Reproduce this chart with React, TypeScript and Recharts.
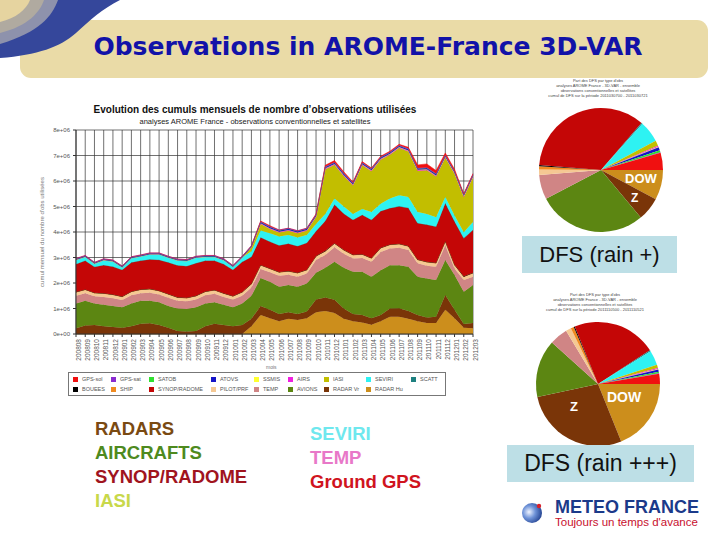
import React from 'react';
import { AreaChart, Area, XAxis, YAxis, CartesianGrid, PieChart, Pie, Cell } from 'recharts';

// months on the x axis (yyyymm)
const months = [
  '200808', '200809', '200810', '200811', '200812', '200901', '200902', '200903', '200904', '200905', '200906',
  '200907', '200908', '200909', '200910', '200911', '200912', '201001', '201002', '201003', '201004', '201005',
  '201006', '201007', '201008', '201009', '201010', '201011', '201012', '201101', '201102', '201103', '201104',
  '201105', '201106', '201107', '201108', '201109', '201110', '201111', '201112', '201201', '201202', '201203',
];

// monthly counts, in millions of observations, stacked from the bottom
const radarHu = [0, 0, 0, 0, 0, 0, 0, 0, 0, 0, 0, 0, 0, 0, 0, 0, 0, 0, 0, 0.3, 0.75, 0.62, 0.5, 0.6, 0.55, 0.62, 0.85, 0.9, 0.82, 0.6, 0.5, 0.45, 0.36, 0.5, 0.68, 0.68, 0.6, 0.5, 0.43, 0.43, 0.95, 0.62, 0.25, 0.23];
const radarVr = [0.23, 0.33, 0.35, 0.3, 0.27, 0.25, 0.3, 0.4, 0.42, 0.35, 0.25, 0.12, 0.1, 0.12, 0.3, 0.4, 0.35, 0.3, 0.35, 0.3, 0.35, 0.33, 0.28, 0.25, 0.23, 0.26, 0.5, 0.53, 0.52, 0.4, 0.28, 0.3, 0.26, 0.25, 0.32, 0.33, 0.3, 0.25, 0.22, 0.25, 0.58, 0.33, 0.14, 0.2];
const avions = [0.97, 0.97, 0.85, 0.85, 0.83, 0.8, 0.9, 0.9, 0.88, 0.9, 0.85, 0.88, 0.88, 0.93, 0.9, 0.85, 0.8, 0.75, 0.85, 0.9, 1.1, 1.1, 1.07, 1.07, 1.07, 1.1, 1.05, 1.17, 1.49, 1.6, 1.66, 1.69, 1.63, 1.75, 1.7, 1.69, 1.74, 1.5, 1.53, 1.44, 1.37, 1.36, 1.27, 1.49];
const temp = [0.3, 0.3, 0.28, 0.3, 0.3, 0.28, 0.32, 0.3, 0.32, 0.3, 0.32, 0.3, 0.3, 0.3, 0.32, 0.33, 0.3, 0.3, 0.3, 0.32, 0.35, 0.37, 0.43, 0.4, 0.4, 0.39, 0.5, 0.5, 0.57, 0.55, 0.52, 0.54, 0.58, 0.72, 0.65, 0.68, 0.65, 0.52, 0.5, 0.52, 0.58, 0.26, 0.46, 0.33];
const pilot = [0.13, 0.13, 0.12, 0.13, 0.13, 0.12, 0.13, 0.13, 0.13, 0.13, 0.13, 0.12, 0.12, 0.13, 0.13, 0.13, 0.13, 0.12, 0.13, 0.13, 0.14, 0.13, 0.13, 0.13, 0.13, 0.13, 0.14, 0.14, 0.14, 0.13, 0.13, 0.13, 0.13, 0.14, 0.14, 0.14, 0.14, 0.13, 0.13, 0.13, 0.14, 0.13, 0.12, 0.13];
const ship = [0.01, 0.01, 0.01, 0.01, 0.01, 0.01, 0.01, 0.01, 0.01, 0.01, 0.01, 0.01, 0.01, 0.01, 0.01, 0.01, 0.01, 0.01, 0.01, 0.01, 0.01, 0.01, 0.01, 0.01, 0.01, 0.01, 0.01, 0.01, 0.01, 0.01, 0.01, 0.01, 0.01, 0.01, 0.01, 0.01, 0.01, 0.01, 0.01, 0.01, 0.01, 0.01, 0.01, 0.01];
const bouees = [0.01, 0.01, 0.01, 0.01, 0.01, 0.01, 0.01, 0.01, 0.01, 0.01, 0.01, 0.01, 0.01, 0.01, 0.01, 0.01, 0.01, 0.01, 0.01, 0.01, 0.01, 0.01, 0.01, 0.01, 0.01, 0.01, 0.01, 0.01, 0.01, 0.01, 0.01, 0.01, 0.01, 0.01, 0.01, 0.01, 0.01, 0.01, 0.01, 0.01, 0.01, 0.01, 0.01, 0.01];
const synop = [1.09, 1.12, 1.01, 1.1, 1.09, 1.04, 1.13, 1.12, 1.15, 1.2, 1.23, 1.25, 1.24, 1.27, 1.2, 1.14, 1.14, 1.02, 1.17, 1.05, 1.07, 1.05, 1.04, 1.07, 1.04, 1.05, 0.97, 1.17, 1.51, 1.42, 1.36, 1.54, 1.49, 1.43, 1.42, 1.46, 1.49, 1.42, 1.45, 1.42, 1.49, 1.69, 1.49, 1.68];
const scatt = [0.01, 0.01, 0.01, 0.01, 0.01, 0.01, 0.01, 0.01, 0.01, 0.01, 0.01, 0.01, 0.01, 0.01, 0.01, 0.01, 0.01, 0.01, 0.01, 0.01, 0.01, 0.01, 0.01, 0.01, 0.01, 0.01, 0.01, 0.01, 0.01, 0.01, 0.01, 0.01, 0.01, 0.01, 0.01, 0.01, 0.01, 0.01, 0.01, 0.01, 0.01, 0.01, 0.01, 0.01];
const seviri = [0.16, 0.15, 0.12, 0.19, 0.2, 0.1, 0.17, 0.17, 0.2, 0.22, 0.19, 0.19, 0.2, 0.22, 0.15, 0.15, 0.15, 0.12, 0.17, 0.22, 0.27, 0.32, 0.34, 0.33, 0.33, 0.3, 0.27, 0.27, 0.23, 0.27, 0.23, 0.22, 0.3, 0.29, 0.37, 0.43, 0.42, 0.43, 0.42, 0.36, 0.23, 0.23, 0.23, 0.3];
const iasi = [0, 0, 0, 0, 0, 0, 0, 0, 0, 0, 0, 0, 0, 0, 0, 0, 0, 0, 0, 0.15, 0.25, 0.17, 0.16, 0.17, 0.17, 0.17, 0.28, 1.75, 1.32, 1.2, 1.11, 1.72, 1.6, 1.72, 1.72, 1.85, 1.79, 1.62, 1.71, 1.6, 1.54, 1.63, 1.38, 1.76];
const airs = [0, 0, 0, 0, 0, 0, 0, 0, 0, 0, 0, 0, 0, 0, 0, 0, 0, 0, 0, 0, 0.03, 0.03, 0.03, 0.03, 0.03, 0.03, 0.03, 0.03, 0.03, 0.03, 0.03, 0.03, 0.03, 0.03, 0.03, 0.03, 0.03, 0.03, 0.03, 0.03, 0.03, 0.03, 0.03, 0.03];
const ssmis = [0, 0, 0, 0, 0, 0, 0, 0, 0, 0, 0, 0, 0, 0, 0, 0, 0, 0, 0, 0, 0, 0, 0, 0, 0, 0, 0, 0.01, 0.01, 0.01, 0.01, 0.01, 0.01, 0.01, 0.01, 0.01, 0.01, 0.01, 0.01, 0.01, 0.01, 0.01, 0.01, 0.01];
const atovs = [0.03, 0.03, 0.03, 0.03, 0.03, 0.03, 0.03, 0.03, 0.03, 0.03, 0.03, 0.03, 0.03, 0.03, 0.03, 0.03, 0.03, 0.03, 0.03, 0.04, 0.05, 0.05, 0.05, 0.05, 0.05, 0.05, 0.05, 0.05, 0.05, 0.05, 0.05, 0.05, 0.05, 0.05, 0.05, 0.05, 0.05, 0.05, 0.05, 0.05, 0.05, 0.05, 0.05, 0.05];
const satob = [0, 0, 0, 0, 0, 0, 0, 0, 0, 0, 0, 0, 0, 0, 0, 0, 0, 0, 0, 0, 0, 0, 0, 0, 0, 0, 0, 0, 0, 0, 0, 0, 0, 0, 0, 0, 0, 0, 0, 0, 0, 0, 0, 0];
const gpsSat = [0.02, 0.02, 0.02, 0.02, 0.02, 0.02, 0.02, 0.02, 0.02, 0.02, 0.02, 0.02, 0.02, 0.02, 0.02, 0.02, 0.02, 0.02, 0.02, 0.02, 0.02, 0.02, 0.02, 0.02, 0.02, 0.02, 0.02, 0.02, 0.02, 0.02, 0.02, 0.02, 0.02, 0.02, 0.02, 0.02, 0.02, 0.02, 0.02, 0.02, 0.02, 0.02, 0.02, 0.02];
const gpsSol = [0, 0, 0, 0, 0, 0, 0, 0, 0, 0, 0, 0, 0, 0, 0, 0, 0, 0, 0, 0, 0.02, 0.03, 0, 0, 0, 0, 0.02, 0.05, 0.06, 0.05, 0.03, 0.03, 0.02, 0.03, 0.03, 0.04, 0.05, 0.12, 0.14, 0.12, 0.08, 0.07, 0.02, 0.03];

// share of DFS by observation type (degrees of the pie), same order as the stack
const dfsRainLight = [28, 22, 102, 23, 5, 3, 1, 126, 1, 20, 5, 1, 0.5, 3, 2, 0.5, 16];
const dfsRainHeavy = [68, 100, 54, 17, 5, 3, 1, 79, 1, 14, 3, 1, 0.5, 2, 1.5, 0.5, 9.5];

const yTicks = [0, 1, 2, 3, 4, 5, 6, 7, 8];

const series = [
  { key: 'hu', name: 'RADAR Hu', color: '#CC8E1C', values: radarHu },
  { key: 'vr', name: 'RADAR Vr', color: '#7A3508', values: radarVr },
  { key: 'avions', name: 'AVIONS', color: '#5C8612', values: avions },
  { key: 'temp', name: 'TEMP', color: '#D08585', values: temp },
  { key: 'pilot', name: 'PILOT/PRF', color: '#F5C893', values: pilot },
  { key: 'ship', name: 'SHIP', color: '#F08A20', values: ship },
  { key: 'bouees', name: 'BOUEES', color: '#000000', values: bouees },
  { key: 'synop', name: 'SYNOP/RADOME', color: '#C40606', values: synop },
  { key: 'scatt', name: 'SCATT', color: '#1E8080', values: scatt },
  { key: 'seviri', name: 'SEVIRI', color: '#2EF2F2', values: seviri },
  { key: 'iasi', name: 'IASI', color: '#C2BE00', values: iasi },
  { key: 'airs', name: 'AIRS', color: '#F020E0', values: airs },
  { key: 'ssmis', name: 'SSMIS', color: '#FFFF30', values: ssmis },
  { key: 'atovs', name: 'ATOVS', color: '#1414C8', values: atovs },
  { key: 'satob', name: 'SATOB', color: '#30E030', values: satob },
  { key: 'gpsSat', name: 'GPS-sat', color: '#8A2BD0', values: gpsSat },
  { key: 'gpsSol', name: 'GPS-sol', color: '#F01010', values: gpsSol },
];

const rows = months.map((m, i) => {
  const row: Record<string, number | string> = { month: m };
  series.forEach((s) => { row[s.key] = s.values[i]; });
  return row;
});

const legendRow1 = ['gpsSol', 'gpsSat', 'satob', 'atovs', 'ssmis', 'airs', 'iasi', 'seviri', 'scatt'];
const legendRow2 = ['bouees', 'ship', 'synop', 'pilot', 'temp', 'avions', 'vr', 'hu'];
const legendCols = [4, 42, 80, 142, 185, 219, 255, 297, 342];

const sans = '"Liberation Sans", Arial, sans-serif';

const abs = (left: number, top: number, extra: React.CSSProperties = {}): React.CSSProperties => ({
  position: 'absolute', left, top, whiteSpace: 'nowrap', ...extra,
});

const pieData = (values: number[]) => series.map((s, i) => ({ name: s.name, value: values[i], color: s.color }));

const DfsPie = ({ values, left, top }: { values: number[]; left: number; top: number }) => {
  const data = pieData(values);
  return (
    <div style={abs(left, top)}>
      <PieChart width={140} height={140}>
        <Pie data={data} dataKey="value" cx={70} cy={70} outerRadius={62} startAngle={0} endAngle={-360}
          stroke="none" isAnimationActive={false}>
          {data.map((d) => <Cell key={d.name} fill={d.color} />)}
        </Pie>
      </PieChart>
    </div>
  );
};

const LegendItem = ({ k, x, y }: { k: string; x: number; y: number }) => {
  const s = series.find((d) => d.key === k)!;
  return (
    <div style={abs(x, y, { display: 'flex', alignItems: 'center', gap: 4, fontSize: 5.5, color: '#555', fontFamily: sans })}>
      <span style={{ width: 5, height: 5, background: s.color, display: 'inline-block' }} />
      {s.name}
    </div>
  );
};

const App: React.FC = () => {
  return (
    <div style={{ position: 'absolute', left: 0, top: 0, width: 720, height: 540, background: '#fff', overflow: 'hidden', fontFamily: sans }}>
      {/* title banner */}
      <div style={abs(20, 20, { width: 688, height: 58, background: '#EADBA7', borderRadius: 11 })} />
      <svg width={130} height={80} style={abs(0, 0)}>
        <path d="M0,0 H120 C102,9 90,20 76,33 C60,47 38,55 0,58 Z" fill="#35479B" />
        <path d="M0,0 H58 C52,16 40,32 0,44 Z" fill="#8E92AC" />
        <path d="M0,0 H44 C40,12 28,26 0,33 Z" fill="#B0AAA0" />
        <path d="M0,0 H30 C26,10 16,18 0,22 Z" fill="#E6D4A0" />
      </svg>
      <div style={abs(20, 32, { width: 696, textAlign: 'center', fontFamily: '"Comic Sans MS", "DejaVu Sans", sans-serif', fontWeight: 'bold', fontSize: 25, color: '#1212A8' })}>
        Observations in AROME-France 3D-VAR
      </div>

      {/* stacked area chart */}
      <div style={abs(0, 0)}>
        <AreaChart width={500} height={400} data={rows} margin={{ top: 130, right: 27, left: 0, bottom: 31 }}>
          <CartesianGrid stroke="#333" strokeWidth={0.7} />
          <XAxis dataKey="month" interval={0} height={35} tickSize={3} tickMargin={2} angle={-90} textAnchor="end"
            tick={{ fontSize: 6.5, fill: '#555' }} stroke="#333" />
          <YAxis domain={[0, 8]} ticks={yTicks} width={76} tickSize={3} tickMargin={3} stroke="#333"
            tick={{ fontSize: 6, fill: '#555' }} tickFormatter={(v: number) => (v === 0 ? '0e+00' : `${v}e+06`)} />
          {series.map((s) => (
            <Area key={s.key} type="linear" dataKey={s.key} name={s.name} stackId="obs" fill={s.color} fillOpacity={1}
              stroke={s.color} strokeWidth={0.5} isAnimationActive={false} />
          ))}
        </AreaChart>
      </div>
      <div style={abs(40, 104, { width: 430, textAlign: 'center', fontSize: 10, fontWeight: 'bold', color: '#111' })}>
        Evolution des cumuls mensuels de nombre d’observations utilisées
      </div>
      <div style={abs(40, 117, { width: 430, textAlign: 'center', fontSize: 7.5, color: '#222' })}>
        analyses AROME France -  observations conventionnelles et satellites
      </div>
      <div style={abs(42, 232, { fontSize: 6, color: '#777', transform: 'translate(-50%, -50%) rotate(-90deg)' })}>
        cumul mensuel du nombre d'obs utilisées
      </div>
      <div style={abs(266, 364, { fontSize: 5, color: '#777' })}>mois</div>

      {/* legend */}
      <div style={abs(68, 372, { width: 376, height: 22, border: '1px solid #777' })}>
        {legendRow1.map((k, i) => <LegendItem key={k} k={k} x={legendCols[i]} y={3} />)}
        {legendRow2.map((k, i) => <LegendItem key={k} k={k} x={legendCols[i]} y={13} />)}
      </div>

      {/* DFS pies */}
      <div style={abs(540, 78, { width: 116, textAlign: 'center', fontSize: 4, lineHeight: '5px', color: '#444' })}>
        Part des DFS par type d'obs<br />analyses AROME France - 3D-VAR - ensemble<br />observations conventionnelles et satellites<br />cumul de DFS sur la période 2011030700 - 2011030721
      </div>
      <DfsPie values={dfsRainLight} left={526} top={95} />
      <div style={abs(625, 171, { fontSize: 13, fontWeight: 'bold', color: '#fff' })}>DOW</div>
      <div style={abs(631, 191, { fontSize: 12, fontWeight: 'bold', color: '#fff' })}>Z</div>

      <div style={abs(537, 292, { width: 116, textAlign: 'center', fontSize: 4, lineHeight: '5px', color: '#444' })}>
        Part des DFS par type d'obs<br />analyses AROME France - 3D-VAR - ensemble<br />observations conventionnelles et satellites<br />cumul de DFS sur la période 2011110500 - 2011110521
      </div>
      <DfsPie values={dfsRainHeavy} left={523} top={309} />
      <div style={abs(607, 389, { fontSize: 14, fontWeight: 'bold', color: '#fff' })}>DOW</div>
      <div style={abs(570, 399, { fontSize: 13, fontWeight: 'bold', color: '#fff' })}>Z</div>

      <div style={abs(522, 236, { width: 155, height: 37, background: '#BDDFE6', fontSize: 22, lineHeight: '37px', textAlign: 'center', color: '#111' })}>
        DFS (rain +)
      </div>
      <div style={abs(507, 445, { width: 187, height: 37, background: '#BDDFE6', fontSize: 23, lineHeight: '37px', textAlign: 'center', color: '#111' })}>
        DFS (rain +++)
      </div>

      {/* observation types kept in the texts */}
      <div style={{ ...abs(95, 417), fontSize: 18.5, fontWeight: 'bold', lineHeight: '24px' }}>
        <div style={{ color: '#7A4A12' }}>RADARS</div>
        <div style={{ color: '#4E8A1E' }}>AIRCRAFTS</div>
        <div style={{ color: '#A0141E' }}>SYNOP/RADOME</div>
        <div style={{ color: '#C8D84A' }}>IASI</div>
      </div>
      <div style={{ ...abs(310, 422), fontSize: 18.5, fontWeight: 'bold', lineHeight: '24px' }}>
        <div style={{ color: '#6EE8EE' }}>SEVIRI</div>
        <div style={{ color: '#E878C8' }}>TEMP</div>
        <div style={{ color: '#D0141E' }}>Ground GPS</div>
      </div>

      {/* Météo-France logo */}
      <svg width={24} height={24} style={abs(520, 501)}>
        <defs>
          <radialGradient id="mf" cx="35%" cy="45%" r="70%">
            <stop offset="0%" stopColor="#F0F4FF" />
            <stop offset="45%" stopColor="#6F93D8" />
            <stop offset="100%" stopColor="#1B3A8A" />
          </radialGradient>
        </defs>
        <circle cx={12} cy={12} r={10} fill="url(#mf)" />
        <circle cx={19} cy={5} r={2.2} fill="#D8202A" />
      </svg>
      <div style={abs(555, 498, { fontSize: 18, lineHeight: '18px', fontWeight: 'bold', color: '#1B3A8A' })}>METEO FRANCE</div>
      <div style={abs(555, 516, { fontSize: 11.5, lineHeight: '12px', color: '#C8102E' })}>Toujours un temps d'avance</div>
    </div>
  );
};

export default App;
